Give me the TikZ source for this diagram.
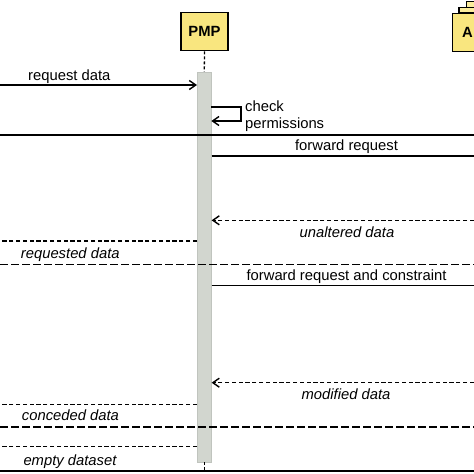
\documentclass[tikz,border=0pt]{standalone}
\usepackage{fontspec}
\setmainfont{Liberation Sans}
\usetikzlibrary{arrows.meta}
\definecolor{objfill}{HTML}{F9E67F}
\definecolor{tabfill}{HTML}{FBEC9C}
\definecolor{barfill}{HTML}{D2D6CF}
\definecolor{barline}{HTML}{C0C4BE}
\begin{document}
\begin{tikzpicture}[x=1pt,y=-1pt,
  msg/.style={line width=1.4pt},
  reply/.style={line width=1.4pt, dash pattern=on 4.2pt off 2.6pt},
  sep/.style={line width=1.6pt, dash pattern=on 7.5pt off 3.5pt},
  lifeline/.style={line width=1.3pt, dash pattern=on 3pt off 2pt},
  tip/.style={-{Straight Barb[length=6.5pt,width=9pt,line width=1.4pt]}},
  lbl/.style={font=\fontsize{14.8}{16.5}\selectfont, inner sep=0pt},
  ilbl/.style={lbl, font=\fontsize{14.8}{16.5}\selectfont\itshape},
  obj/.style={draw, line width=1.4pt, fill=objfill, font=\fontsize{14.8}{16}\selectfont\bfseries, minimum height=38.5pt, inner sep=0pt},
  ]
\useasboundingbox (0,0) rectangle (474,474);
\clip (0,0) rectangle (474,474);
\fill[white] (0,0) rectangle (474,474);

% objects
\node[obj, minimum width=47pt] (pmp) at (204.5,31.5) {PMP};
\draw[line width=1.4pt, fill=tabfill] (466.7,1.5) rectangle (490,7.3);
\draw[line width=1.4pt, fill=tabfill] (459,7.3) rectangle (490,12.7);
\node[obj, anchor=north west, minimum width=60pt, text width=40pt, inner xsep=10pt, align=left] (asrv) at (451.5,12.5) {A};

% activation bar and lifeline
\node[draw=barline, line width=0.6pt, fill=barfill, minimum width=14pt, minimum height=390pt, anchor=north, inner sep=0pt] (bar) at (204.3,71.7) {};
\coordinate (lend) at (204.3,471);
\draw[lifeline] (pmp.south) -- (bar.north);
\draw[lifeline] (bar.south) -- (lend);

% coordinates
\coordinate (m1) at (0,85);
\coordinate (s1) at (211.3,107);
\coordinate (s2) at (241,107);
\coordinate (s3) at (241,121);
\coordinate (s4) at (211.3,121);
\coordinate (f1l) at (0,135);
\coordinate (f1r) at (474,135);
\coordinate (m2) at (474,156);
\coordinate (m3) at (474,220.3);
\coordinate (m4) at (0,241);
\coordinate (f2l) at (0,264.3);
\coordinate (f2r) at (474,264.3);
\coordinate (m5) at (474,285.7);
\coordinate (m6) at (474,382.7);
\coordinate (m7) at (0,404.3);
\coordinate (f3l) at (0,426.7);
\coordinate (f3r) at (474,426.7);
\coordinate (m8) at (0,446.7);
\coordinate (f4l) at (0,470.7);
\coordinate (f4r) at (474,470.7);

% messages
\draw[msg,tip] (m1) -- (bar.west |- m1);
\node[lbl, anchor=base west] (t1) at (28,80) {request data};

\draw[msg,tip] (s1) -- (s2) -- (s3) -- (s4);
\node[lbl, anchor=base west] (t2a) at (245,111.7) {check};
\node[lbl, anchor=base west] (t2b) at (245,128) {permissions};

\draw[msg] (f1l) -- (f1r);

\draw[msg] (bar.east |- m2) -- (m2);
\node[lbl, anchor=base] (t3) at (346.5,150.7) {forward request};

\draw[reply,tip] (m3) -- (bar.east |- m3);
\node[ilbl, anchor=base] (t4) at (347,237.3) {unaltered data};

\draw[reply] (bar.west |- m4) -- (m4);
\node[ilbl, anchor=base west] (t5) at (20.7,258.7) {requested data};

\draw[sep] (f2l) -- (f2r);

\draw[msg] (bar.east |- m5) -- (m5);
\node[lbl, anchor=base] (t6) at (346.5,280) {forward request and constraint};

\draw[reply,tip] (m6) -- (bar.east |- m6);
\node[ilbl, anchor=base] (t7) at (346,399) {modified data};

\draw[reply] (bar.west |- m7) -- (m7);
\node[ilbl, anchor=base west] (t8) at (21.7,420.7) {conceded data};

\draw[sep] (f3l) -- (f3r);

\draw[reply] (bar.west |- m8) -- (m8);
\node[ilbl, anchor=base west] (t9) at (23.3,465) {empty dataset};

\draw[line width=1.9pt] (f4l) -- (f4r);
\end{tikzpicture}
\end{document}
